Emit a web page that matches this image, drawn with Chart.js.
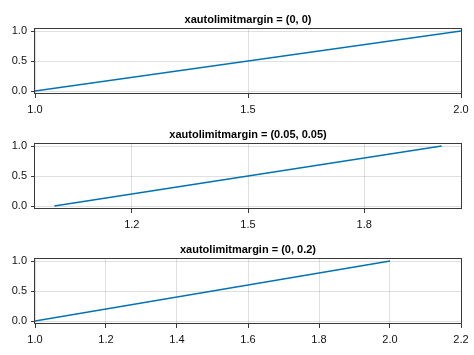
<!DOCTYPE html>
<html><head><meta charset="utf-8">
<script src="https://cdn.jsdelivr.net/npm/chart.js@4"></script>
<style>
html,body{margin:0;padding:0;background:#fff;}
body{width:474px;height:355px;position:relative;overflow:hidden;}
canvas{position:absolute;left:0;}
</style></head><body>
<canvas id="c1" width="474" height="115" style="top:0px"></canvas>
<canvas id="c2" width="474" height="115" style="top:115px"></canvas>
<canvas id="c3" width="474" height="125" style="top:230px"></canvas>
<script>
// Data
const xValues = [1.0, 2.0];
const yValues = [0.0, 1.0];

const titles = ["xautolimitmargin = (0, 0)", "xautolimitmargin = (0.05, 0.05)", "xautolimitmargin = (0, 0.2)"];

const xLimits1 = [1.0, 2.0];
const xLimits2 = [0.95, 2.05];
const xLimits3 = [1.0, 2.2];
const yLimits = [-0.05, 1.05];

const xTicks1 = [1.0, 1.5, 2.0];
const xTickLabels1 = ["1.0", "1.5", "2.0"];
const xTicks2 = [1.2, 1.5, 1.8];
const xTickLabels2 = ["1.2", "1.5", "1.8"];
const xTicks3 = [1.0, 1.2, 1.4, 1.6, 1.8, 2.0, 2.2];
const xTickLabels3 = ["1.0", "1.2", "1.4", "1.6", "1.8", "2.0", "2.2"];
const yTicks = [0.0, 0.5, 1.0];
const yTickLabels = ["0.0", "0.5", "1.0"];

const FONT = "'Liberation Sans', Arial, Helvetica, sans-serif";
const LINE_COLOR = "#0072B2";
const GRID_COLOR = "rgba(0,0,0,0.12)";
const SPINE_COLOR = "#3a3a3a";

const framePlugin = {
  id: 'frame',
  afterDraw(chart) {
    const a = chart.chartArea, ctx = chart.ctx;
    ctx.save();
    ctx.strokeStyle = SPINE_COLOR;
    ctx.lineWidth = 1;
    const l = Math.round(a.left) - 0.5, t = Math.round(a.top) + 0.5;
    const r = Math.round(a.right) + 0.5, b = Math.round(a.bottom) - 0.5;
    ctx.strokeRect(l, t, r - l, b - t);
    ctx.restore();
  }
};

function makeChart(id, title, xLim, xTicks, xLabels, bottomPad) {
  new Chart(document.getElementById(id), {
    type: 'line',
    data: {
      datasets: [{
        data: xValues.map((x, i) => ({x: x, y: yValues[i]})),
        borderColor: LINE_COLOR,
        borderWidth: 1.3,
        pointRadius: 0,
        tension: 0,
        fill: false
      }]
    },
    options: {
      responsive: false,
      animation: false,
      devicePixelRatio: 1,
      layout: {padding: {left: 0, right: 13, top: 0, bottom: bottomPad}},
      plugins: {
        legend: {display: false},
        tooltip: {enabled: false},
        title: {
          display: true,
          fullSize: false,
          text: title,
          color: '#000',
          font: {family: FONT, size: 11, weight: 'bold', lineHeight: 1.2},
          padding: {top: 13.8, bottom: 1}
        }
      },
      scales: {
        x: {
          type: 'linear',
          min: xLim[0], max: xLim[1],
          afterBuildTicks: s => { s.ticks = xTicks.map(v => ({value: v})); },
          afterFit: s => { s.height = 21; },
          ticks: {
            autoSkip: false, maxRotation: 0,
            callback: (v, i) => xLabels[i],
            color: '#111', font: {family: FONT, size: 11}, padding: 5
          },
          grid: {color: GRID_COLOR, lineWidth: 1, tickColor: SPINE_COLOR, tickLength: 4, drawTicks: true},
          border: {display: false}
        },
        y: {
          type: 'linear',
          min: yLimits[0], max: yLimits[1],
          afterBuildTicks: s => { s.ticks = yTicks.map(v => ({value: v})); },
          afterFit: s => { s.width = 35; },
          ticks: {
            autoSkip: false,
            callback: (v, i) => yTickLabels[i],
            color: '#111', font: {family: FONT, size: 11}, padding: 4
          },
          grid: {color: GRID_COLOR, lineWidth: 1, tickColor: SPINE_COLOR, tickLength: 4, drawTicks: true},
          border: {display: false}
        }
      }
    },
    plugins: [framePlugin]
  });
}

makeChart('c1', titles[0], xLimits1, xTicks1, xTickLabels1, 0);
makeChart('c2', titles[1], xLimits2, xTicks2, xTickLabels2, 0);
makeChart('c3', titles[2], xLimits3, xTicks3, xTickLabels3, 10);
</script>
</body></html>
